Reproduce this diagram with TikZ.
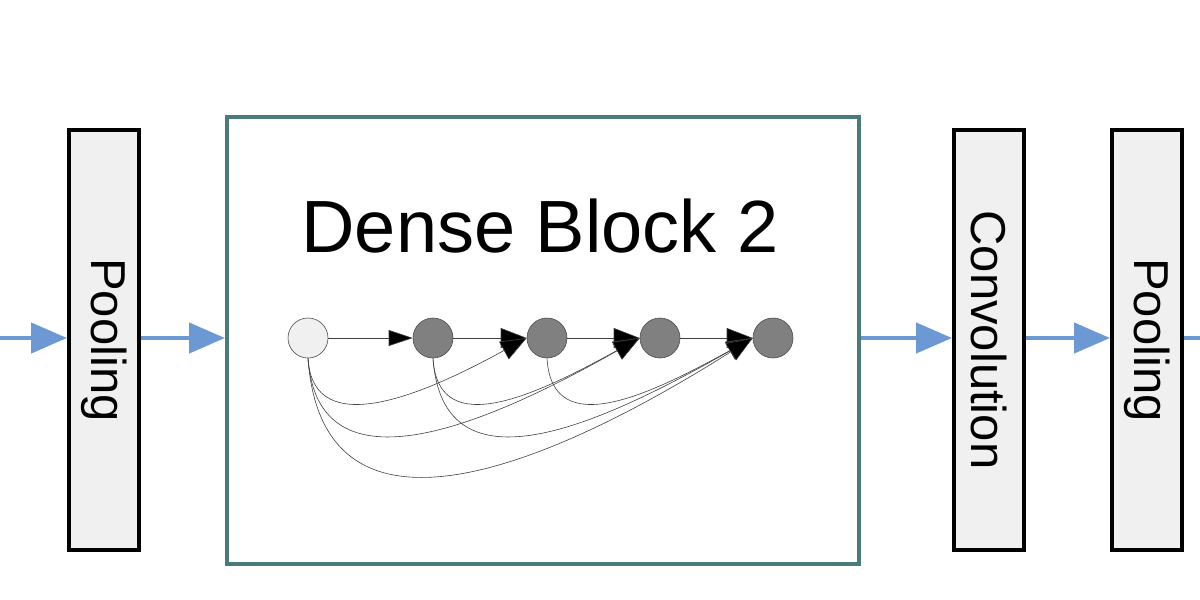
\documentclass[tikz,border=0pt]{standalone}
\usepackage{fontspec}
\setmainfont{Liberation Sans}
\usetikzlibrary{arrows.meta}
\definecolor{ablue}{RGB}{108,152,212}
\definecolor{teal}{RGB}{74,122,122}
\begin{document}
\begin{tikzpicture}[x=1pt,y=-1pt,
 layer/.style={draw=black,line width=4pt,fill=black!6,minimum width=70pt,minimum height=420pt,inner sep=0pt,anchor=north west},
 vlab/.style={rotate=-90,font=\fontsize{49}{49}\selectfont},
 flow/.style={ablue,line width=4.5pt,-{Triangle[width=30pt,length=36pt]}},
 unit/.style={circle,draw=black!70,line width=0.6pt,minimum size=40pt,inner sep=0pt,fill=black!50},
 link/.style={black!75,line width=0.6pt,-{Triangle[width=20pt,length=26pt,fill=black]}}]
\useasboundingbox (0,0) rectangle (1200,600);
\node[layer] (p1) at (67,128) {};
\node[vlab] at (p1.center) {Pooling};
\node[draw=teal,line width=4pt,minimum width=632pt,minimum height=447pt,anchor=north west,inner sep=0pt] (db) at (225,115) {};
\node[font=\fontsize{74}{74}\selectfont] (t) at (540,226) {Dense Block 2};
\node[layer] (cv) at (952,128) {};
\node[vlab] at (cv.center) {Convolution};
\node[layer] (p2) at (1110,128) {};
\node[vlab] at (p2.center) {Pooling};
\coordinate (s) at (0,338);
\coordinate (e) at (1200,338);
\draw[flow] (s) -- (p1.west |- s);
\draw[flow] (p1.east |- s) -- (db.west |- s);
\draw[flow] (db.east |- s) -- (cv.west |- s);
\draw[flow] (cv.east |- s) -- (p2.west |- s);
\draw[ablue,line width=4.5pt] (p2.east |- s) -- (e);
\node[unit,fill=black!6] (n0) at (308,338) {};
\node[unit] (n1) at (433,338) {};
\node[unit] (n2) at (547,338) {};
\node[unit] (n3) at (660,338) {};
\node[unit] (n4) at (773,338) {};
\draw[link,-{Triangle[width=16pt,length=24pt,fill=black]}] (n0) -- (n1);
\draw[link] (n1) -- (n2);
\draw[link] (n2) -- (n3);
\draw[link] (n3) -- (n4);
\draw[link] (n0.south) .. controls +(5,85) and +(-100,55) .. (n2.west);
\draw[link] (n1.south) .. controls +(5,85) and +(-100,55) .. (n3.west);
\draw[link] (n2.south) .. controls +(5,85) and +(-100,55) .. (n4.west);
\draw[link] (n0.south) .. controls +(10,140) and +(-150,85) .. (n3.west);
\draw[link] (n1.south) .. controls +(10,140) and +(-150,85) .. (n4.west);
\draw[link] (n0.south) .. controls +(15,210) and +(-190,120) .. (n4.west);
\end{tikzpicture}
\end{document}
